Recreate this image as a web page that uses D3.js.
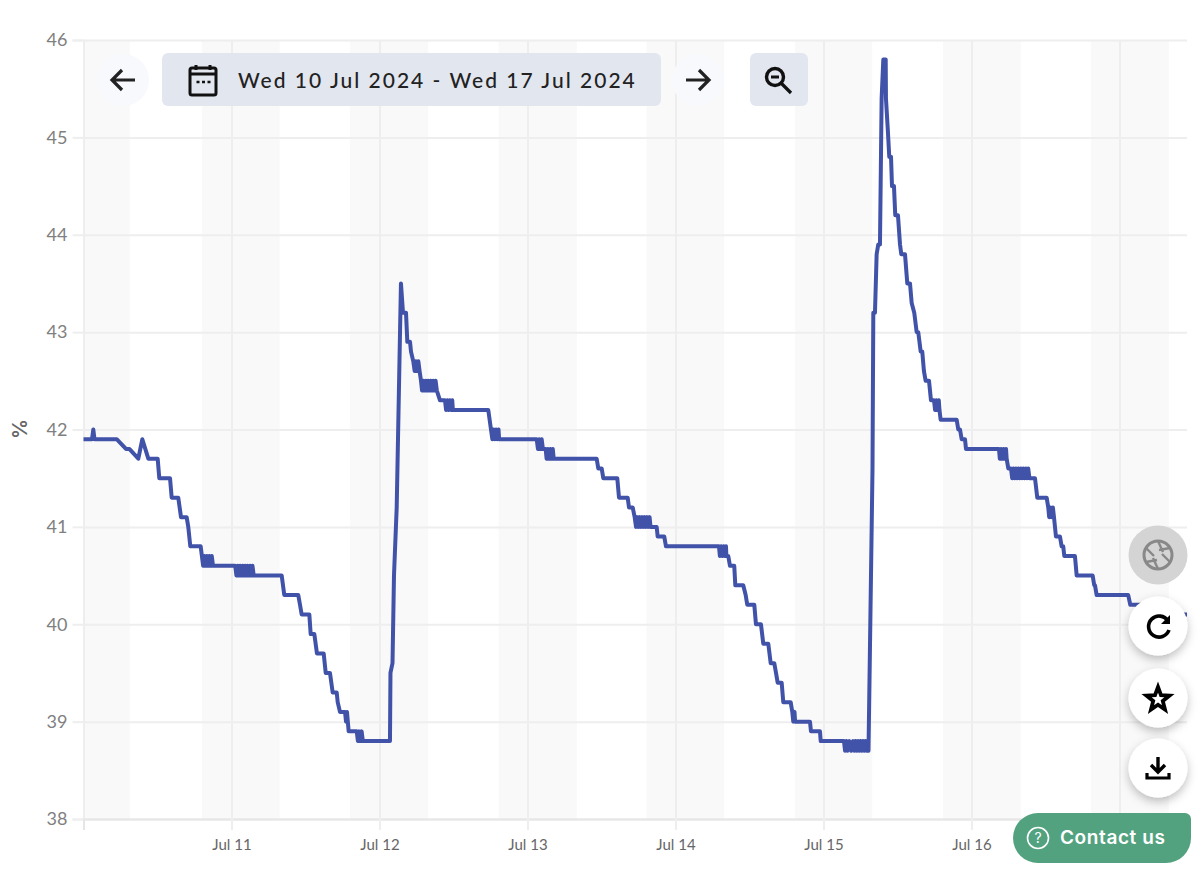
<!DOCTYPE html>
<html>
<head>
<meta charset="utf-8">
<script src="https://cdnjs.cloudflare.com/ajax/libs/d3/7.8.5/d3.min.js"></script>
<style>
	html, body { margin: 0; background: #fff; overflow: hidden; }
	svg { display: block; font-family: Inter, sans-serif; }
</style>
</head>
<body>
<svg id="chart" width="1200" height="882" xmlns="http://www.w3.org/2000/svg"></svg>
<script>
// hours since Wed 10 Jul 2024 00:00. rows line up with percent below
var hours = [0, 1.38, 1.59, 1.78, 5.38, 6.89, 7.43, 8.89, 9.54, 10.51, 12.03, 12.29, 14.03, 14.30, 15.37, 15.81, 16.73, 16.99, 17.32, 19.00,
	19.2, 19.4, 19.6, 19.8, 20.0, 20.2, 20.4, 20.6, 20.8, 21.0,
	24.6, 24.8, 25.0, 25.2, 25.4, 25.6, 25.8, 26.0, 26.2, 26.4, 26.6, 26.8, 27.0, 27.2, 27.4, 27.6,
	32.14, 32.56, 34.83, 35.11, 35.38, 36.62, 36.84, 37.43, 37.86, 38.95, 39.28, 39.97, 40.41, 41.06, 41.22, 41.59, 42.41, 42.57, 42.73, 43.00,
	44.3, 44.5, 44.7, 44.9, 45.1, 45.3, 45.4,
	49.70, 49.78, 50.11, 50.35, 50.79, 51.21, 51.48, 51.81, 52.30, 52.51, 52.95, 53.11, 53.48,
	53.7, 53.9, 54.1, 54.3, 54.5, 54.73,
	54.9, 55.1, 55.3, 55.5, 55.7, 55.9, 56.1, 56.3, 56.5, 56.7, 56.9, 57.1, 57.3, 57.81, 58.62,
	58.8, 59.0, 59.2, 59.4, 59.6, 59.8, 59.9,
	65.64, 66.08, 66.3, 66.5, 66.7, 66.9, 67.1, 67.3, 67.4,
	73.49, 73.7, 73.9, 74.1, 74.3, 74.5, 74.95,
	75.1, 75.3, 75.5, 75.7, 75.9, 76.1, 76.25,
	83.22, 83.48, 84.03, 84.29, 86.56, 86.84, 88.25, 88.46, 89.06, 89.38,
	89.6, 89.8, 90.0, 90.2, 90.4, 90.6, 90.8, 91.0, 91.2, 91.4, 91.6, 91.8, 91.95,
	92.95, 93.11, 94.18, 94.46, 103.05,
	103.2, 103.4, 103.6, 103.8, 104.0, 104.19, 104.25,
	104.56, 104.84, 105.53, 105.70, 106.99, 107.38, 107.64, 108.78,
	109.05, 109.86, 110.24, 111.05, 111.44, 112.02, 112.30, 112.57, 113.22, 113.48, 114.68, 114.94, 115.1, 115.3, 115.4, 117.81, 117.97, 119.43, 119.55, 123.32,
	123.5, 123.7, 123.9, 124.2, 124.5, 124.8, 125.0, 125.2, 125.4, 125.6, 125.8, 126.0, 126.2, 126.4, 126.6, 126.8, 127.0, 127.2, 127.3,
	127.95, 128.08, 128.35, 128.62, 128.88, 129.16, 129.43, 129.70, 130.09, 130.13, 130.41, 130.67, 130.95, 131.11, 131.43, 131.64, 132.08, 132.41, 132.62, 133.22, 133.59, 134.03,
	134.30, 134.72, 135.11, 135.37, 135.76, 136.02, 136.29, 136.57, 137.11, 137.43, 137.92,
	138.1, 138.3, 138.5, 138.7, 138.81,
	139.00, 141.60, 141.86, 142.14, 142.41, 142.95, 143.11, 148.46,
	148.6, 148.8, 149.0, 149.2, 149.4, 149.6, 149.7, 149.97, 150.41,
	150.6, 150.8, 151.0, 151.2, 151.4, 151.6, 151.8, 152.0, 152.2, 152.4, 152.6, 152.8, 153.0, 153.2, 153.4,
	154.30, 154.67, 156.19, 156.45,
	156.6, 156.8, 157.0, 157.2, 157.38,
	157.70, 158.35, 158.62, 158.88, 159.05, 160.78, 161.06,
	163.65, 163.91, 164.03, 164.30, 169.42, 169.75, 172.94, 173.27, 178.95];

var percent = [41.9, 41.9, 42.0, 41.9, 41.9, 41.8, 41.8, 41.7, 41.9, 41.7, 41.7, 41.5, 41.5, 41.3, 41.3, 41.1, 41.1, 41.0, 40.8, 40.8,
	40.7, 40.6, 40.7, 40.6, 40.7, 40.6, 40.7, 40.6, 40.7, 40.6,
	40.6, 40.5, 40.6, 40.5, 40.6, 40.5, 40.6, 40.5, 40.6, 40.5, 40.6, 40.5, 40.6, 40.5, 40.6, 40.5,
	40.5, 40.3, 40.3, 40.2, 40.1, 40.1, 39.9, 39.9, 39.7, 39.7, 39.5, 39.5, 39.3, 39.3, 39.2, 39.1, 39.1, 39.0, 39.1, 38.9,
	38.9, 38.8, 38.9, 38.8, 38.9, 38.8, 38.8,
	38.8, 39.5, 39.6, 40.5, 41.2, 42.6, 43.5, 43.2, 43.2, 42.9, 42.9, 42.8, 42.7,
	42.6, 42.7, 42.6, 42.7, 42.6, 42.5,
	42.4, 42.5, 42.4, 42.5, 42.4, 42.5, 42.4, 42.5, 42.4, 42.5, 42.4, 42.5, 42.4, 42.3, 42.3,
	42.2, 42.3, 42.2, 42.3, 42.2, 42.3, 42.2,
	42.2, 42.0, 41.9, 42.0, 41.9, 42.0, 41.9, 42.0, 41.9,
	41.9, 41.8, 41.9, 41.8, 41.9, 41.8, 41.8,
	41.7, 41.8, 41.7, 41.8, 41.7, 41.8, 41.7,
	41.7, 41.6, 41.6, 41.5, 41.5, 41.3, 41.3, 41.2, 41.2, 41.1,
	41.0, 41.1, 41.0, 41.1, 41.0, 41.1, 41.0, 41.1, 41.0, 41.1, 41.0, 41.1, 41.0,
	41.0, 40.9, 40.9, 40.8, 40.8,
	40.7, 40.8, 40.7, 40.8, 40.7, 40.8, 40.7,
	40.7, 40.6, 40.6, 40.4, 40.4, 40.3, 40.2, 40.2,
	40.0, 40.0, 39.8, 39.8, 39.6, 39.6, 39.5, 39.4, 39.4, 39.2, 39.2, 39.1, 39.0, 39.1, 39.0, 39.0, 38.9, 38.9, 38.8, 38.8,
	38.7, 38.8, 38.7, 38.8, 38.7, 38.8, 38.7, 38.8, 38.7, 38.8, 38.7, 38.8, 38.7, 38.8, 38.7, 38.8, 38.7, 38.8, 38.7,
	41.6, 43.2, 43.2, 43.8, 43.9, 43.9, 45.4, 45.8, 45.8, 45.4, 45.1, 44.8, 44.8, 44.5, 44.5, 44.2, 44.2, 43.9, 43.8, 43.8, 43.5, 43.5,
	43.3, 43.2, 43.0, 43.0, 42.8, 42.8, 42.6, 42.5, 42.5, 42.3, 42.3,
	42.2, 42.3, 42.2, 42.3, 42.2,
	42.1, 42.1, 42.0, 42.0, 41.9, 41.9, 41.8, 41.8,
	41.7, 41.8, 41.7, 41.8, 41.7, 41.8, 41.7, 41.6, 41.6,
	41.5, 41.6, 41.5, 41.6, 41.5, 41.6, 41.5, 41.6, 41.5, 41.6, 41.5, 41.6, 41.5, 41.6, 41.5,
	41.5, 41.3, 41.3, 41.2,
	41.1, 41.2, 41.1, 41.2, 41.1,
	40.9, 40.9, 40.8, 40.8, 40.7, 40.7, 40.5,
	40.5, 40.4, 40.4, 40.3, 40.3, 40.2, 40.2, 40.1, 40.1];

// shaded night bands, hours since the start
var nightStart = [0, 19.2, 43.2, 67.3, 91.3, 115.4, 139.4, 163.4];
var nightEnd = [7.5, 31.8, 55.9, 80, 103.9, 127.9, 152, 176];

var dayTicks = [24, 48, 72, 96, 120, 144, 168];
var dayLabels = ['Jul 11', 'Jul 12', 'Jul 13', 'Jul 14', 'Jul 15', 'Jul 16'];
var percentTicks = [38, 39, 40, 41, 42, 43, 44, 45, 46];
var dateRange = 'Wed 10 Jul 2024 - Wed 17 Jul 2024';

var start = new Date(2024, 6, 10);
function toDate (h) {
	return new Date(start.getTime() + h * 3600000);
}

var svg = d3.select('#chart');

var x = d3.scaleTime().domain([toDate(0), toDate(178.95)]).range([83.5, 1187]),
	y = d3.scaleLinear().domain([38, 46]).range([819, 40]);

var defs = svg.append('defs');
var shadow = defs.append('filter').attr('id', 'btn-shadow')
	.attr('x', '-40%').attr('y', '-40%').attr('width', '180%').attr('height', '190%');
shadow.append('feDropShadow')
	.attr('dx', 0).attr('dy', 4).attr('stdDeviation', 5)
	.attr('flood-color', '#000').attr('flood-opacity', 0.25);

svg.append('g').selectAll('rect')
	.data(nightStart)
	.join('rect')
		.attr('x', d => x(toDate(d)))
		.attr('y', 40)
		.attr('width', (d, i) => x(toDate(nightEnd[i])) - x(toDate(d)))
		.attr('height', 779)
		.attr('fill', '#f9f9f9');

// axes carry the grid lines through their tick size
var yAxis = svg.append('g')
	.attr('transform', 'translate(83.5,0)')
	.call(d3.axisLeft(y).tickValues(percentTicks).tickSize(11).tickPadding(5).tickFormat(d3.format('d')));
yAxis.select('.domain').attr('stroke', '#eeeeee').attr('stroke-width', 2);
yAxis.selectAll('.tick line').attr('stroke', '#eeeeee').attr('stroke-width', 2);
yAxis.selectAll('.tick').append('line')
	.attr('x1', 0).attr('x2', 1103.5)
	.attr('stroke', '#eeeeee').attr('stroke-width', 2);
yAxis.selectAll('text')
	.attr('fill', '#808080').attr('font-size', 18).attr('font-family', 'Lato, sans-serif');

var xAxis = svg.append('g')
	.attr('transform', 'translate(0,819)')
	.call(d3.axisBottom(x).tickValues(dayTicks.map(toDate)).tickSize(11).tickPadding(9)
		.tickFormat((d, i) => dayLabels[i] || ''));
xAxis.select('.domain').attr('stroke', '#e6e6e6').attr('stroke-width', 2);
xAxis.selectAll('.tick line').attr('stroke', '#eeeeee').attr('stroke-width', 2);
xAxis.selectAll('.tick').append('line')
	.attr('y1', 0).attr('y2', -779)
	.attr('stroke', '#eeeeee').attr('stroke-width', 2);
xAxis.selectAll('text')
	.attr('fill', '#666').attr('font-size', 15).attr('font-family', 'Lato, sans-serif');

svg.append('text')
	.attr('transform', 'translate(27,429) rotate(-90)')
	.attr('text-anchor', 'middle')
	.attr('font-size', 20)
	.attr('font-weight', 600)
	.attr('fill', '#666')
	.text('%');

var line = d3.line()
	.x(d => x(toDate(d)))
	.y((d, i) => y(percent[i]));

svg.append('path')
	.datum(hours)
	.attr('d', line)
	.attr('fill', 'none')
	.attr('stroke', '#4152a9')
	.attr('stroke-width', 4)
	.attr('stroke-linejoin', 'round');

// date toolbar
var bar = svg.append('g');
bar.append('circle').attr('cx', 123).attr('cy', 80).attr('r', 26).attr('fill', '#f8f9fc');
bar.append('path')
	.attr('d', 'M135,80H112M122,70L112,80L122,90')
	.attr('fill', 'none').attr('stroke', '#222').attr('stroke-width', 3.2);
bar.append('rect')
	.attr('x', 162).attr('y', 53).attr('width', 499).attr('height', 53).attr('rx', 6)
	.attr('fill', '#e2e6ef');
bar.append('path')
	.attr('d', 'M192,68H214a2,2 0 0 1 2,2V93a2,2 0 0 1-2,2H192a2,2 0 0 1-2-2V70a2,2 0 0 1 2-2ZM190,74H216M196,65V70M210,65V70')
	.attr('fill', 'none').attr('stroke', '#111').attr('stroke-width', 3);
bar.append('path')
	.attr('d', 'M196.5,82h3M202,82h3M207.5,82h3')
	.attr('stroke', '#111').attr('stroke-width', 2.4);
bar.append('text')
	.attr('x', 238).attr('y', 88)
	.attr('font-family', 'Lato, sans-serif')
	.attr('font-size', 21)
	.attr('letter-spacing', 2)
	.attr('font-weight', 500)
	.attr('fill', '#222')
	.text(dateRange);
bar.append('circle').attr('cx', 698).attr('cy', 80).attr('r', 26).attr('fill', '#f8f9fc');
bar.append('path')
	.attr('d', 'M686,80H709M699,70L709,80L699,90')
	.attr('fill', 'none').attr('stroke', '#222').attr('stroke-width', 3.2);
bar.append('rect')
	.attr('x', 750).attr('y', 53).attr('width', 58).attr('height', 53).attr('rx', 6)
	.attr('fill', '#e2e6ef');
bar.append('circle').attr('cx', 775).attr('cy', 77).attr('r', 8.5)
	.attr('fill', 'none').attr('stroke', '#111').attr('stroke-width', 3.4);
bar.append('path')
	.attr('d', 'M771,77H779M781.5,83.5L791,93')
	.attr('fill', 'none').attr('stroke', '#111').attr('stroke-width', 3.2);

// floating buttons
var fab = svg.append('g');
fab.append('circle').attr('cx', 1158).attr('cy', 555).attr('r', 29.5).attr('fill', '#d4d4d4');
fab.append('circle').attr('cx', 1158).attr('cy', 555).attr('r', 14)
	.attr('fill', 'none').attr('stroke', '#888').attr('stroke-width', 3);
fab.append('path')
	.attr('d', 'M1158,541L1163,552M1170,548L1159,550M1170,562L1162,554M1158,569L1153,558M1146,562L1157,560M1146,548L1154,556')
	.attr('stroke', '#888').attr('stroke-width', 2.4);

[626, 698, 768].forEach(function (cy) {
	fab.append('circle')
		.attr('cx', 1158).attr('cy', cy).attr('r', 29.5)
		.attr('fill', '#fff')
		.attr('filter', 'url(#btn-shadow)');
});
fab.append('path')
	.attr('d', 'M1168,621A10.5,10.5 0 1 0 1169,630')
	.attr('fill', 'none').attr('stroke', '#000').attr('stroke-width', 3.6);
fab.append('path').attr('d', 'M1170,615V624H1161Z').attr('fill', '#000');
fab.append('path')
	.attr('d', 'M1158,687L1161,695.2L1169.5,695.6L1162.8,701L1165,709.5L1158,704.7L1151,709.5L1153.2,701L1146.5,695.6L1155,695.2Z')
	.attr('fill', 'none').attr('stroke', '#000').attr('stroke-width', 3.8);
fab.append('path')
	.attr('d', 'M1147,773V778H1169V773')
	.attr('fill', 'none').attr('stroke', '#000').attr('stroke-width', 3.2);
fab.append('path')
	.attr('d', 'M1158,757V771M1151,765L1158,772L1165,765')
	.attr('fill', 'none').attr('stroke', '#000').attr('stroke-width', 3.4);

// contact button
svg.append('path')
	.attr('d', 'M1038,813H1185a6,6 0 0 1 6,6V838a25,25 0 0 1-25,25H1038a25,25 0 0 1 0-50Z')
	.attr('fill', '#52a27f');
svg.append('circle').attr('cx', 1038).attr('cy', 838).attr('r', 10.5)
	.attr('fill', 'none').attr('stroke', '#fff').attr('stroke-width', 1.6);
svg.append('text')
	.attr('x', 1038).attr('y', 843)
	.attr('text-anchor', 'middle')
	.attr('font-size', 14)
	.attr('fill', '#fff')
	.text('?');
svg.append('text')
	.attr('x', 1060).attr('y', 844)
	.attr('font-size', 19)
	.attr('font-weight', 600)
	.attr('letter-spacing', 0.6)
	.attr('fill', '#fff')
	.text('Contact us');
</script>
</body>
</html>
